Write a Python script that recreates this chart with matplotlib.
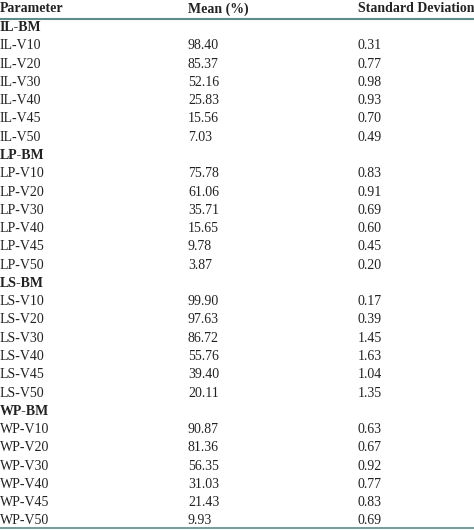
import matplotlib.pyplot as plt

groups = ["IL-BM", "LP-BM", "LS-BM", "WP-BM"]
levels = ["V10", "V20", "V30", "V40", "V45", "V50"]
means = [
    [98.40, 85.37, 52.16, 25.83, 15.56, 7.03],
    [75.78, 61.06, 35.71, 15.65, 9.78, 3.87],
    [99.90, 97.63, 86.72, 55.76, 39.40, 20.11],
    [90.87, 81.36, 56.35, 31.03, 21.43, 9.93],
]
sds = [
    [0.31, 0.77, 0.98, 0.93, 0.70, 0.49],
    [0.83, 0.91, 0.69, 0.60, 0.45, 0.20],
    [0.17, 0.39, 1.45, 1.63, 1.04, 1.35],
    [0.63, 0.67, 0.92, 0.77, 0.83, 0.69],
]
headers = ["Parameter", "Mean (%)", "Standard Deviation"]

W, H = 474, 530
fig = plt.figure(figsize=(W / 100, H / 100), dpi=100)
ax = fig.add_axes([0, 0, 1, 1])
ax.set_xlim(0, W)
ax.set_ylim(H, 0)
ax.axis("off")

font = dict(family=["Liberation Serif", "DejaVu Serif"], fontsize=10, va="center", color="#222222")
colx = [0, 188, 358]

for x, h in zip(colx, headers):
    ax.text(x, 9, h, fontweight="bold", **font)
ax.plot([0, W], [19, 19], color="#5e8c8c", lw=1.5)

y = 27.5
step = (521 - 27.5) / 27
for g, ms, ss in zip(groups, means, sds):
    ax.text(colx[0], y, g, fontweight="bold", **font)
    y += step
    for lv, m, s in zip(levels, ms, ss):
        ax.text(colx[0], y, f"{g[:2]}-{lv}", **font)
        ax.text(colx[1], y, f"{m:.2f}", **font)
        ax.text(colx[2], y, f"{s:.2f}", **font)
        y += step
ax.plot([0, W], [528, 528], color="#5e8c8c", lw=1.2)

fig.savefig("out.png", dpi=100)
